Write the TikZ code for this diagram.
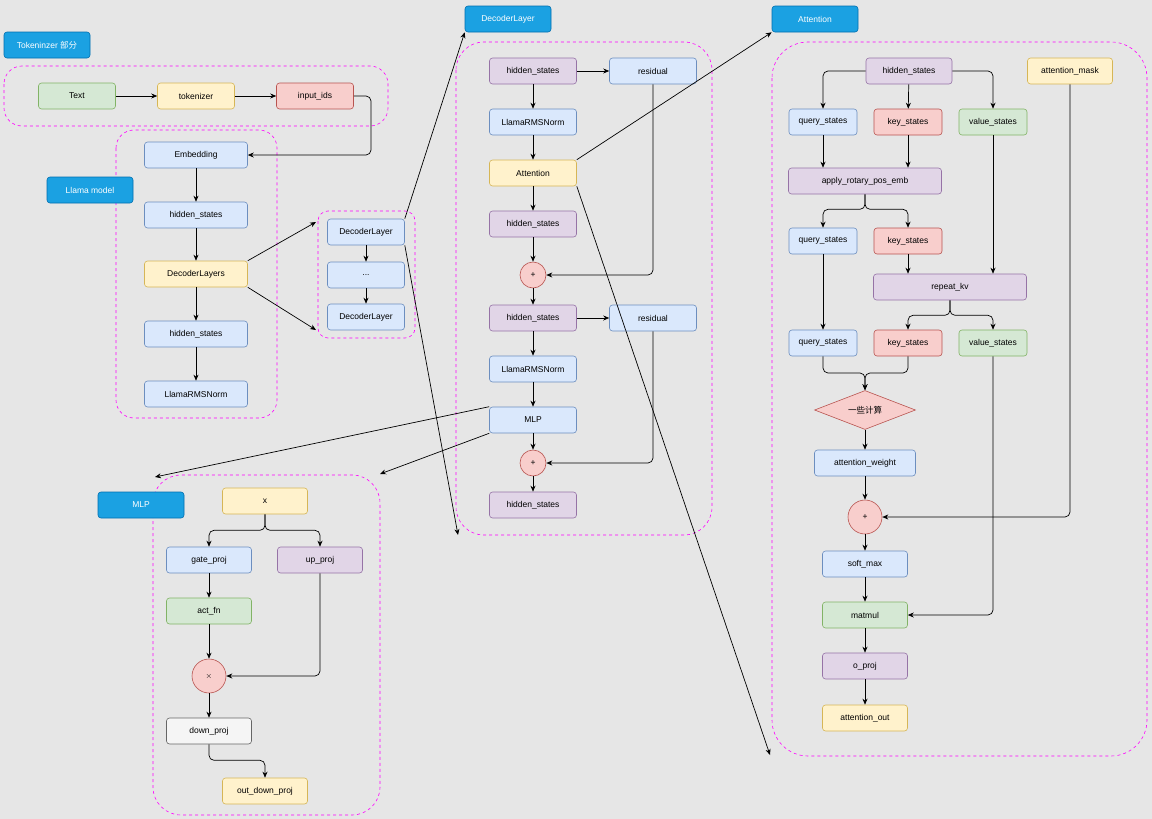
\documentclass[tikz,border=0pt]{standalone}
\usepackage{fontspec}
\setmainfont{Liberation Sans}
\newfontfamily\cjk{Noto Sans CJK SC}
\usetikzlibrary{shapes.geometric, arrows.meta, positioning}
\definecolor{bgcanvas}{HTML}{E6E6E6}
\definecolor{bluefill}{HTML}{DAE8FC}\definecolor{bluedraw}{HTML}{6C8EBF}
\definecolor{greenfill}{HTML}{D5E8D4}\definecolor{greendraw}{HTML}{82B366}
\definecolor{yellowfill}{HTML}{FFF2CC}\definecolor{yellowdraw}{HTML}{D6B656}
\definecolor{redfill}{HTML}{F8CECC}\definecolor{reddraw}{HTML}{B85450}
\definecolor{purplefill}{HTML}{E1D5E7}\definecolor{purpledraw}{HTML}{9673A6}
\definecolor{greyfill}{HTML}{F5F5F5}\definecolor{greydraw}{HTML}{666666}
\definecolor{titlefill}{HTML}{1BA1E2}\definecolor{titledraw}{HTML}{006EAF}
\definecolor{groupline}{HTML}{FF00FF}

\begin{document}
\begin{tikzpicture}[
    x=1pt, y=-1pt,
    every node/.style={font=\fontsize{8.5}{10}\selectfont},
    box/.style={rectangle, rounded corners=3pt, minimum width=77pt, minimum height=26pt, inner sep=1pt, line width=0.6pt},
    bluebox/.style={box, fill=bluefill, draw=bluedraw},
    greenbox/.style={box, fill=greenfill, draw=greendraw},
    yellowbox/.style={box, fill=yellowfill, draw=yellowdraw},
    redbox/.style={box, fill=redfill, draw=reddraw},
    purplebox/.style={box, fill=purplefill, draw=purpledraw},
    greybox/.style={box, fill=greyfill, draw=greydraw},
    title/.style={box, minimum width=86pt, fill=titlefill, draw=titledraw, text=white},
    plus/.style={circle, fill=redfill, draw=reddraw, line width=0.6pt, inner sep=0pt},
    group/.style={draw=groupline, dashed, rounded corners=18pt, line width=0.6pt},
    arrow/.style={-{Stealth[length=6pt,width=5pt]}, line width=0.7pt, rounded corners=5pt},
]
\fill[bgcanvas] (0,0) rectangle (1152,819);
\useasboundingbox (0,0) rectangle (1152,819);

% Groups
\draw[group] (4,66) rectangle (388,126);
\draw[group] (116,130) rectangle (277,418);
\draw[group, rounded corners=10pt] (318,211) rectangle (415,338);
\draw[group, rounded corners=28pt] (456,42) rectangle (712,535);
\draw[group, rounded corners=36pt] (772,42) rectangle (1147,756);
\draw[group, rounded corners=28pt] (153,475) rectangle (380,815);

% Titles
\node[title] (ttok) at (47,45) {Tokeninzer {\cjk 部分}};
\node[title] (tllama) at (90,190) {Llama model};
\node[title] (tdec) at (508,19) {DecoderLayer};
\node[title] (tattn) at (815,19) {Attention};
\node[title] (tmlp) at (141,505) {MLP};

% Tokenizer
\node[greenbox] (text) at (77,96) {Text};
\node[yellowbox] (tokenizer) at (196,96) {tokenizer};
\node[redbox] (inputids) at (315,96) {input\_ids};

% Llama model
\node[bluebox, minimum width=103pt] (embed) at (196,155) {Embedding};
\node[bluebox, minimum width=103pt] (hs1) at (196,215) {hidden\_states};
\node[yellowbox, minimum width=103pt] (layers) at (196,274) {DecoderLayers};
\node[bluebox, minimum width=103pt] (hs2) at (196,334) {hidden\_states};
\node[bluebox, minimum width=103pt] (norm) at (196,394) {LlamaRMSNorm};

\node[bluebox] (dl1) at (366,232) {DecoderLayer};
\node[bluebox] (dots) at (366,275) {...};
\node[bluebox] (dl2) at (366,317) {DecoderLayer};

% Decoder layer
\node[purplebox, minimum width=87pt] (dhs1) at (533,71) {hidden\_states};
\node[bluebox, minimum width=87pt] (res1) at (653,71) {residual};
\node[bluebox, minimum width=87pt] (dnorm1) at (533,122) {LlamaRMSNorm};
\node[yellowbox, minimum width=87pt] (attn) at (533,173) {Attention};
\node[purplebox, minimum width=87pt] (dhs2) at (533,224) {hidden\_states};
\node[plus, minimum size=26pt] (add1) at (533,275) {+};
\node[purplebox, minimum width=87pt] (dhs3) at (533,318) {hidden\_states};
\node[bluebox, minimum width=87pt] (res2) at (653,318) {residual};
\node[bluebox, minimum width=87pt] (dnorm2) at (533,369) {LlamaRMSNorm};
\node[bluebox, minimum width=87pt] (mlp) at (533,420) {MLP};
\node[plus, minimum size=26pt] (add2) at (533,463) {+};
\node[purplebox, minimum width=87pt] (dhs4) at (533,505) {hidden\_states};

% Attention
\node[purplebox, minimum width=86pt] (ahs) at (909,71) {hidden\_states};
\node[yellowbox, minimum width=85pt] (mask) at (1070,71) {attention\_mask};
\node[bluebox, minimum width=68pt] (q1) at (823,122) {query\_states};
\node[redbox, minimum width=68pt] (k1) at (908,122) {key\_states};
\node[greenbox, minimum width=68pt] (v1) at (993,122) {value\_states};
\node[purplebox, minimum width=153pt] (rope) at (865,181) {apply\_rotary\_pos\_emb};
\node[bluebox, minimum width=68pt] (q2) at (823,241) {query\_states};
\node[redbox, minimum width=68pt] (k2) at (908,241) {key\_states};
\node[purplebox, minimum width=153pt] (repeat) at (950,287) {repeat\_kv};
\node[bluebox, minimum width=68pt] (q3) at (823,343) {query\_states};
\node[redbox, minimum width=68pt] (k3) at (908,343) {key\_states};
\node[greenbox, minimum width=68pt] (v3) at (993,343) {value\_states};
\node[diamond, aspect=2.6, fill=redfill, draw=reddraw, line width=0.6pt, minimum width=101pt, minimum height=39pt, inner sep=0pt] (calc) at (865,410) {\cjk 一些计算};
\node[bluebox, minimum width=101pt] (aw) at (865,463) {attention\_weight};
\node[plus, minimum size=34pt] (add3) at (865,517) {+};
\node[bluebox, minimum width=85pt] (softmax) at (865,564) {soft\_max};
\node[greenbox, minimum width=85pt] (matmul) at (865,615) {matmul};
\node[purplebox, minimum width=85pt] (oproj) at (865,666) {o\_proj};
\node[yellowbox, minimum width=85pt] (aout) at (865,718) {attention\_out};

% MLP
\node[yellowbox, minimum width=85pt] (x) at (265,501) {x};
\node[bluebox, minimum width=85pt] (gate) at (209,560) {gate\_proj};
\node[purplebox, minimum width=85pt] (up) at (320,560) {up\_proj};
\node[greenbox, minimum width=85pt] (act) at (209,611) {act\_fn};
\node[plus, minimum size=34pt] (mul) at (209,676) {$\times$};
\node[greybox, minimum width=85pt] (down) at (209,731) {down\_proj};
\node[yellowbox, minimum width=85pt] (out) at (265,791) {out\_down\_proj};

% Arrows: tokenizer and model
\draw[arrow] (text) -- (tokenizer);
\draw[arrow] (tokenizer) -- (inputids);
\draw[arrow] (inputids.east) -| (371,120) |- (embed.east);
\draw[arrow] (embed) -- (hs1);
\draw[arrow] (hs1) -- (layers);
\draw[arrow] (layers) -- (hs2);
\draw[arrow] (hs2) -- (norm);
\draw[arrow] (layers.north east) -- (316,222);
\draw[arrow] (layers.south east) -- (316,330);
\draw[arrow] (dl1) -- (dots);
\draw[arrow] (dots) -- (dl2);
\draw[arrow] (dl1.north east) -- (tdec.south west);
\draw[arrow] (dl1.south east) -- (458,535);

% Arrows: decoder layer
\draw[arrow] (dhs1) -- (res1);
\draw[arrow] (dhs1) -- (dnorm1);
\draw[arrow] (dnorm1) -- (attn);
\draw[arrow] (attn) -- (dhs2);
\draw[arrow] (dhs2) -- (add1);
\draw[arrow] (res1.south) |- (add1.east);
\draw[arrow] (add1) -- (dhs3);
\draw[arrow] (dhs3) -- (res2);
\draw[arrow] (dhs3) -- (dnorm2);
\draw[arrow] (dnorm2) -- (mlp);
\draw[arrow] (mlp) -- (add2);
\draw[arrow] (res2.south) |- (add2.east);
\draw[arrow] (add2) -- (dhs4);
\draw[arrow] (attn.north east) -- (tattn.south west);
\draw[arrow] (attn.south east) -- (770,755);
\draw[arrow] (mlp.north west) -- (155,477);
\draw[arrow] (mlp.south west) -- (380,474);

% Arrows: attention
\draw[arrow] (ahs.west) -| (q1.north);
\draw[arrow] (ahs) -- (k1);
\draw[arrow] (ahs.east) -| (v1.north);
\draw[arrow] (q1) -- (q1 |- rope.north);
\draw[arrow] (k1) -- (k1 |- rope.north);
\draw[arrow] (v1) -- (v1 |- repeat.north);
\draw[arrow] (rope.south) -- ++(0,15) -| (q2.north);
\draw[arrow] (rope.south) -- ++(0,15) -| (k2.north);
\draw[arrow] (k2) -- (k2 |- repeat.north);
\draw[arrow] (q2) -- (q3);
\draw[arrow] (repeat.south) -- ++(0,15) -| (k3.north);
\draw[arrow] (repeat.south) -- ++(0,15) -| (v3.north);
\draw[arrow] (q3.south) |- (865,373) -- (calc.north);
\draw[arrow] (k3.south) |- (865,373) -- (calc.north);
\draw[arrow] (calc) -- (aw);
\draw[arrow] (aw) -- (add3);
\draw[arrow] (mask.south) |- (add3.east);
\draw[arrow] (add3) -- (softmax);
\draw[arrow] (softmax) -- (matmul);
\draw[arrow] (v3.south) |- (matmul.east);
\draw[arrow] (matmul) -- (oproj);
\draw[arrow] (oproj) -- (aout);

% Arrows: MLP
\draw[arrow] (x.south) -- ++(0,16) -| (gate.north);
\draw[arrow] (x.south) -- ++(0,16) -| (up.north);
\draw[arrow] (gate) -- (act);
\draw[arrow] (act) -- (mul);
\draw[arrow] (up.south) |- (mul.east);
\draw[arrow] (mul) -- (down);
\draw[arrow] (down.south) -- ++(0,16) -| (out.north);

\end{tikzpicture}
\end{document}
